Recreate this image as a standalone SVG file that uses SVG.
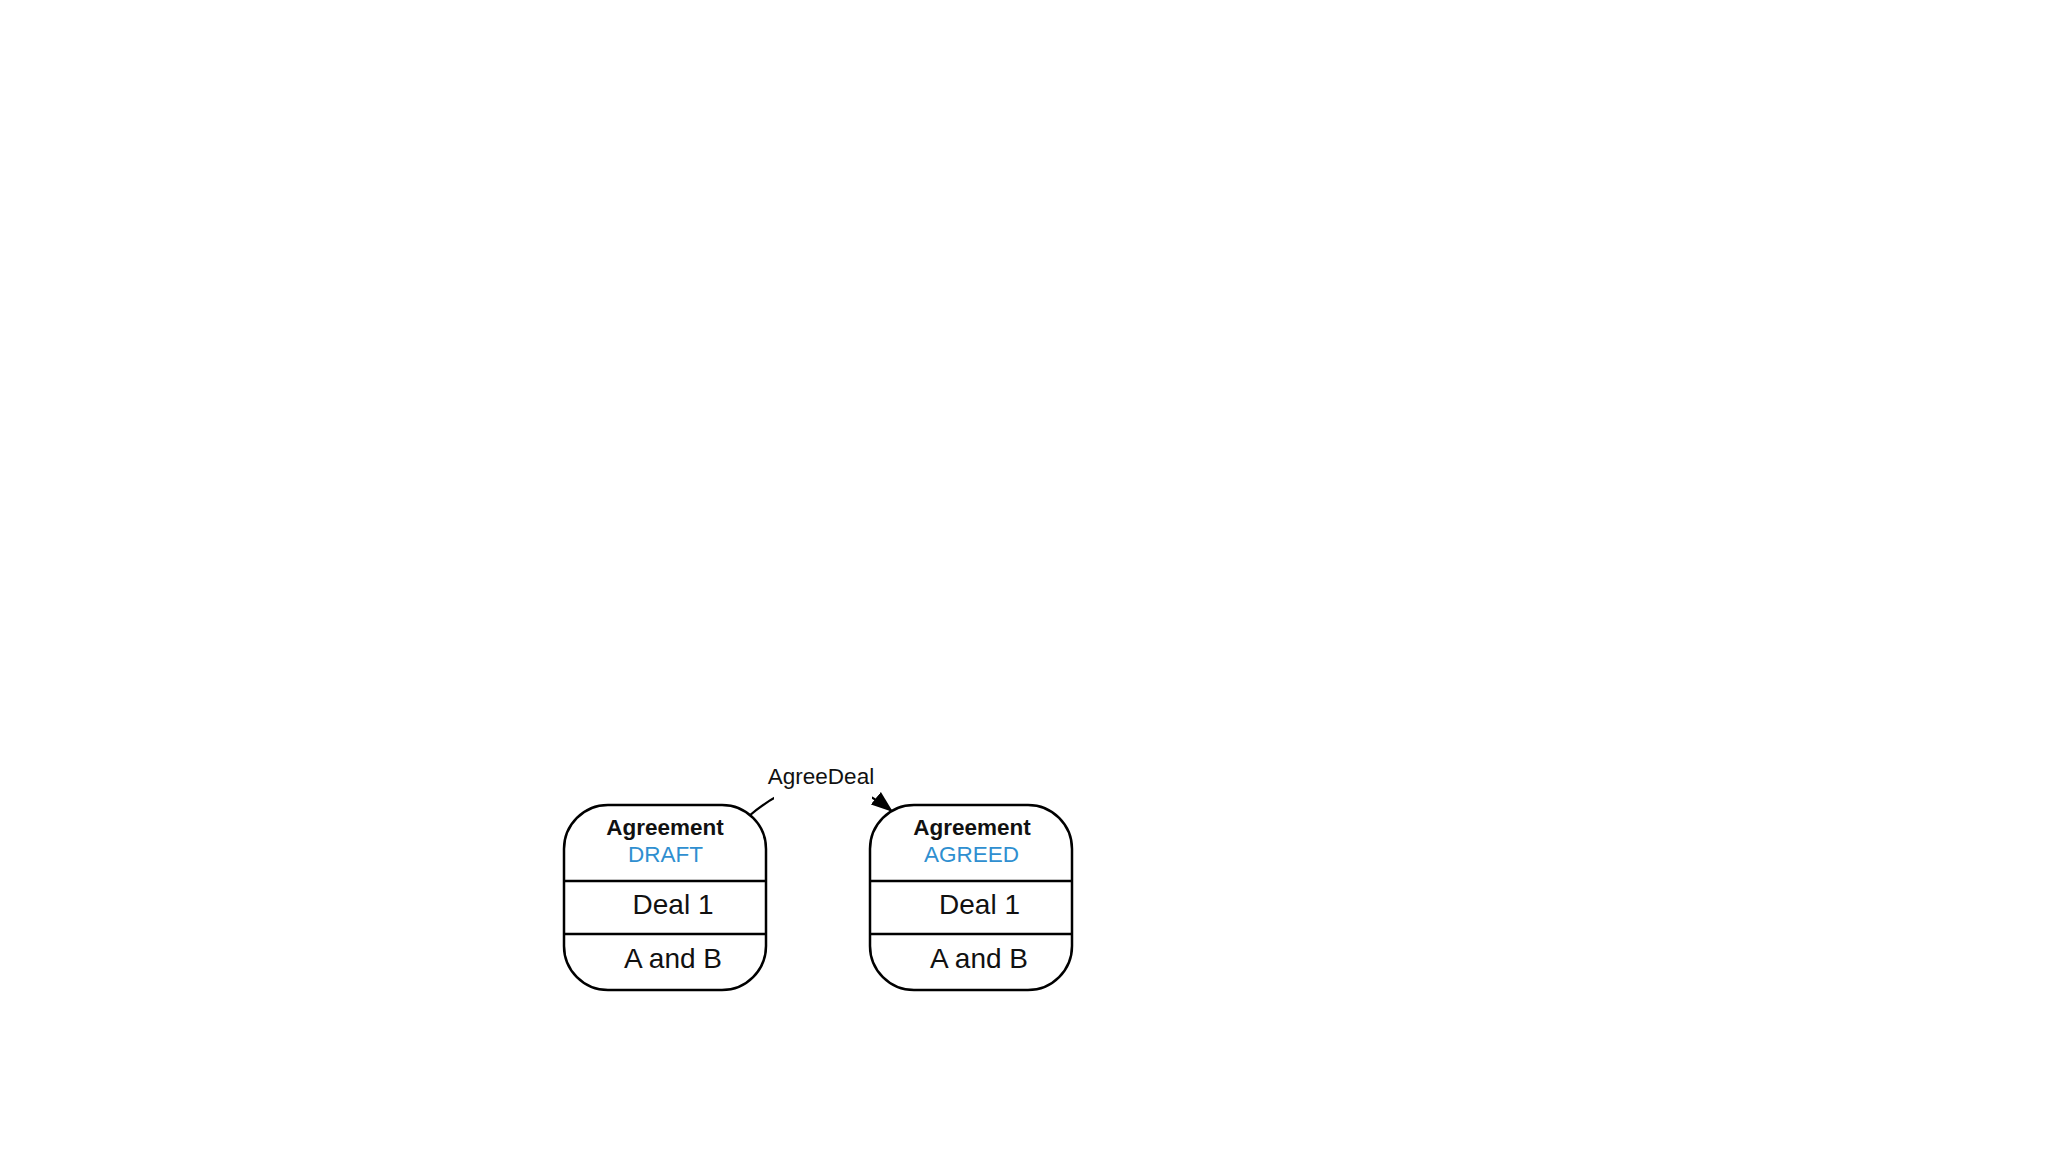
<svg xmlns="http://www.w3.org/2000/svg" width="2048" height="1152" viewBox="0 0 2048 1152">
  <style>
    .box { fill: #ffffff; stroke: #000000; stroke-width: 2.5; }
    .div { stroke: #000000; stroke-width: 2.5; }
    .title { font-family: "Liberation Sans", Arial, sans-serif; font-size: 22.5px; font-weight: bold; fill: #111111; text-anchor: middle; }
    .state { font-family: "Liberation Sans", Arial, sans-serif; font-size: 22.5px; fill: #2f8fd0; text-anchor: middle; }
    .body { font-family: "Liberation Sans", Arial, sans-serif; font-size: 28px; fill: #111111; text-anchor: middle; }
    .edge { fill: none; stroke: #000000; stroke-width: 2.2; }
    .elabel { font-family: "Liberation Sans", Arial, sans-serif; font-size: 22.5px; fill: #111111; text-anchor: middle; }
  </style>
  <defs>
    <marker id="arrow" markerUnits="userSpaceOnUse" viewBox="0 0 22 16" refX="22" refY="8" markerWidth="22" markerHeight="16" orient="auto">
      <path d="M0,0 L22,8 L0,16 z" fill="#000000"/>
    </marker>
  </defs>
  <rect width="2048" height="1152" fill="#ffffff"/>

  <g id="connectors">
    <g id="edge-agreedeal">
      <path class="edge" d="M749,816 Q821,754 893,812" marker-end="url(#arrow)"/>
      <rect x="774" y="760" width="98" height="41" fill="#ffffff"/>
      <text class="elabel" x="821" y="784">AgreeDeal</text>
    </g>
  </g>

  <g id="node-draft">
    <rect class="box" x="564" y="805" width="202" height="185" rx="44" ry="44"/>
    <line class="div" x1="564" y1="881" x2="766" y2="881"/>
    <line class="div" x1="564" y1="934" x2="766" y2="934"/>
    <text class="title" x="665" y="835">Agreement</text>
    <text class="state" x="665.5" y="862">DRAFT</text>
    <text class="body" x="673" y="914">Deal 1</text>
    <text class="body" x="673" y="968">A and B</text>
  </g>

  <g id="node-agreed">
    <rect class="box" x="870" y="805" width="202" height="185" rx="44" ry="44"/>
    <line class="div" x1="870" y1="881" x2="1072" y2="881"/>
    <line class="div" x1="870" y1="934" x2="1072" y2="934"/>
    <text class="title" x="972" y="835">Agreement</text>
    <text class="state" x="971.5" y="862">AGREED</text>
    <text class="body" x="979.5" y="914">Deal 1</text>
    <text class="body" x="979" y="968">A and B</text>
  </g>
</svg>
